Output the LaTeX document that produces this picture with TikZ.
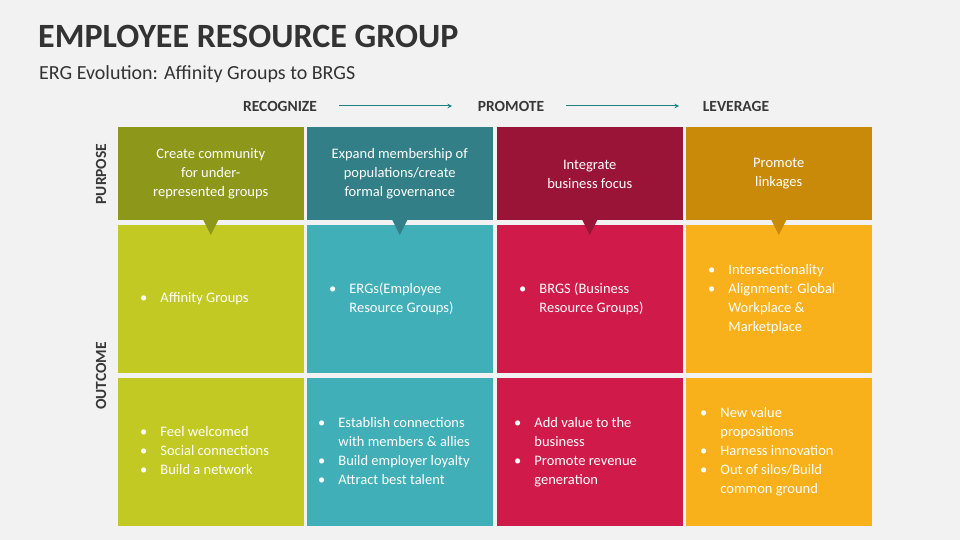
\documentclass[tikz,border=0pt]{standalone}
\usepackage{fontspec}
\setmainfont{Carlito}
\begin{document}
\begin{tikzpicture}[x=1pt,y=-1pt,
  cell/.style={draw=none,minimum width=185pt,anchor=north west,inner sep=0pt},
  ptxt/.style={text=white,font=\fontsize{14.5}{19}\selectfont,align=center},
  btxt/.style={text=white,font=\fontsize{14.5}{19}\selectfont,anchor=west,inner sep=0pt},
  hdr/.style={text=black!78,font=\fontsize{15.5}{18}\selectfont\bfseries},
  tri/.style={inner sep=0pt}]
\definecolor{bg}{HTML}{F2F2F2}
\definecolor{dA}{HTML}{8D981B}\definecolor{lA}{HTML}{C2C922}
\definecolor{dB}{HTML}{327F87}\definecolor{lB}{HTML}{41AFB8}
\definecolor{dC}{HTML}{9A1438}\definecolor{lC}{HTML}{D01A4A}
\definecolor{dD}{HTML}{C88A08}\definecolor{lD}{HTML}{F8B11B}
\definecolor{arr}{HTML}{1C8080}
\fill[bg] (0,0) rectangle (960,540);
\node[anchor=west,inner sep=0pt,text=black!80,font=\fontsize{34}{36}\selectfont\bfseries] (title) at (38,36) {EMPLOYEE RESOURCE GROUP};
\node[anchor=west,inner sep=0pt,text=black!80,font=\fontsize{20}{22}\selectfont] (sub) at (39,74) {ERG Evolution: Affinity Groups to BRGS};
\node[hdr] (h1) at (280,106) {RECOGNIZE};
\node[hdr] (h2) at (511,106) {PROMOTE};
\node[hdr] (h3) at (736,106) {LEVERAGE};
\draw[arr,line width=1pt,-stealth] (339,106) -- (452,106);
\draw[arr,line width=1pt,-stealth] (566,106) -- (679,106);
\node[hdr,rotate=90] (pp) at (101,174) {PURPOSE};
\node[hdr,rotate=90] (oo) at (101,376) {OUTCOME};
\newcommand\col[6]{%
 \fill[#2] (#1,127) rectangle ++(185.5,93);
 \fill[#3] (#1,225) rectangle ++(185.5,148);
 \fill[#3] (#1,378) rectangle ++(185.5,148);
 \fill[#2] ({#1+84.75},219) -- ({#1+100.75},219) -- ({#1+92.75},235) -- cycle;
 \node[ptxt] at ({#1+92.75},174) {#4};
 \node[btxt] at ({#1+22},#5) {#6};
}
\col{118}{dA}{lA}{Create community\\for under-\\represented groups}{299}{\begin{tabular}{@{}l@{\hspace{13pt}}l@{}}\textbullet&Affinity Groups\end{tabular}}
\col{307}{dB}{lB}{Expand membership of\\populations/create\\formal governance}{299}{\begin{tabular}{@{}l@{\hspace{13pt}}l@{}}\textbullet&ERGs(Employee\\&Resource Groups)\end{tabular}}
\col{497}{dC}{lC}{Integrate\\business focus}{299}{\begin{tabular}{@{}l@{\hspace{13pt}}l@{}}\textbullet&BRGS (Business\\&Resource Groups)\end{tabular}}
\col{686}{dD}{lD}{Promote\\linkages}{299}{\begin{tabular}{@{}l@{\hspace{13pt}}l@{}}\textbullet&Intersectionality\\\textbullet&Alignment: Global\\&Workplace \&\\&Marketplace\end{tabular}}
\node[btxt] (b1) at (140,452) {\begin{tabular}{@{}l@{\hspace{13pt}}l@{}}\textbullet&Feel welcomed\\\textbullet&Social connections\\\textbullet&Build a network\end{tabular}};
\node[btxt] (b2) at (318,452) {\begin{tabular}{@{}l@{\hspace{13pt}}l@{}}\textbullet&Establish connections\\&with members \& allies\\\textbullet&Build employer loyalty\\\textbullet&Attract best talent\end{tabular}};
\node[btxt] (b3) at (514,452) {\begin{tabular}{@{}l@{\hspace{13pt}}l@{}}\textbullet&Add value to the\\&business\\\textbullet&Promote revenue\\&generation\end{tabular}};
\node[btxt] (b4) at (700,452) {\begin{tabular}{@{}l@{\hspace{13pt}}l@{}}\textbullet&New value\\&propositions\\\textbullet&Harness innovation\\\textbullet&Out of silos/Build\\&common ground\end{tabular}};
\end{tikzpicture}
\end{document}
